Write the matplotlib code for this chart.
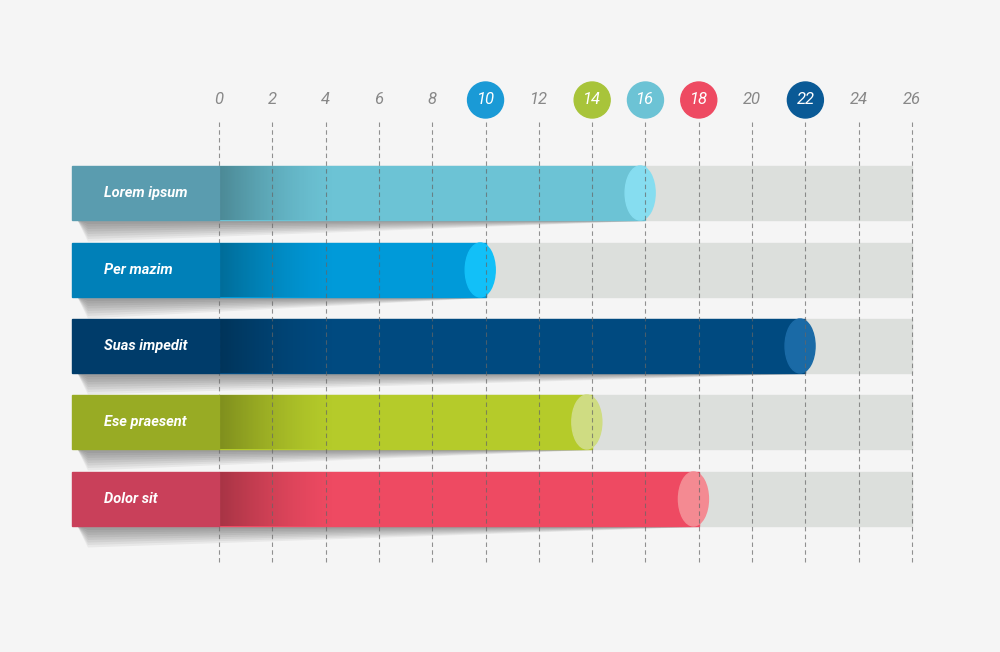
import numpy as np
import matplotlib
matplotlib.use('Agg')
import matplotlib.pyplot as plt
from matplotlib.patches import Rectangle, Ellipse, Polygon

# --- data ---
categories = ['Lorem ipsum', 'Per mazim', 'Suas impedit', 'Ese praesent', 'Dolor sit']
values = [16, 10, 22, 14, 18]
bar_colors = ['#6cc3d5', '#009ad9', '#004a80', '#b5cb2a', '#ee4a62']
label_colors = ['#5a9caf', '#0080b8', '#003c6a', '#98ab24', '#c9405a']
cap_colors = ['#86ddf0', '#12c0f8', '#1a6aa6', '#cfdc82', '#f48a92']
ticks = list(range(0, 27, 2))
highlight = {10: '#1a9ad6', 14: '#a8c43a', 16: '#6cc3d5', 18: '#ee4a62', 22: '#0a5a96'}

# pixel layout: 0 -> x=219px, 26 -> x=912px
PX = 693 / 26
X0 = 219
def px2x(p):
    return (p - X0) / PX

fig = plt.figure(figsize=(10, 6.52), dpi=100)
fig.patch.set_facecolor('#f5f5f5')
ax = fig.add_axes([0, 0, 1, 1])
ax.set_xlim(px2x(0), px2x(1000))
ax.set_ylim(652, 0)
ax.axis('off')

y_centers = [193, 270, 346, 422, 499]
h = 54
left = px2x(72)
cap_w = 30 / PX

# horizontal gradient for the label block shadow
grad = np.zeros((1, 256, 4))
grad[..., 3] = np.linspace(0.45, 0, 256) ** 1.5

for i, (cat, v) in enumerate(zip(categories, values)):
    yc = y_centers[i]
    top = yc - h / 2
    ax.add_patch(Rectangle((0, top), 26, h, color='#dcdfdc', zorder=1))
    for k in range(8):
        ax.add_patch(Polygon([(left + 0.2, top + h), (v, top + h),
                              (v, top + h + 1), (left + 0.6, top + h + 4 + k * 2.5)],
                             closed=True, color='black', alpha=0.05, lw=0, zorder=1.5))
    ax.add_patch(Rectangle((0, top), v, h, color=bar_colors[i], zorder=2))
    ax.imshow(grad, extent=(0, 4.5, top + h, top), aspect='auto', zorder=2.5,
              interpolation='bilinear')
    ax.add_patch(Ellipse((v - 0.2, yc), cap_w, h, color=cap_colors[i], zorder=3))
    ax.add_patch(Rectangle((left, top), -left, h, color=label_colors[i], zorder=4))
    ax.text(px2x(104), yc, cat, color='white', fontsize=10.5, fontstyle='italic',
            fontweight='bold', va='center', ha='left', family='Roboto', zorder=5)

for t in ticks:
    ax.plot([t, t], [122, 565], color='#666666', lw=0.8, ls=(0, (4, 3)),
            alpha=0.7, zorder=3.5)
    if t in highlight:
        ax.add_patch(Ellipse((t, 100), 36 / PX, 36, color=highlight[t], zorder=5))
        ax.text(t, 100, str(t), color='white', fontsize=12, fontstyle='italic',
                ha='center', va='center', family='Roboto', zorder=6)
    else:
        ax.text(t, 100, str(t), color='#888888', fontsize=12, fontstyle='italic',
                ha='center', va='center', family='Roboto', zorder=6)

ax.set_xlim(px2x(0), px2x(1000))
ax.set_ylim(652, 0)
fig.savefig('out.png', dpi=100, facecolor=fig.get_facecolor())
